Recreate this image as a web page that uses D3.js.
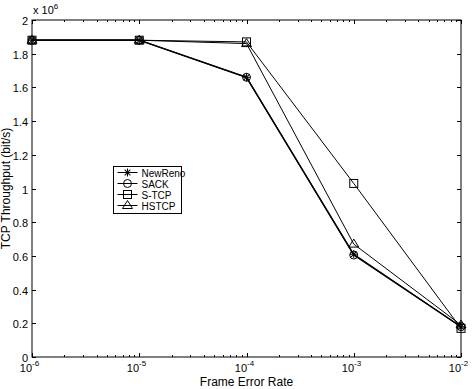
<!DOCTYPE html>
<meta charset="utf-8" />
<script src="https://d3js.org/d3.v7.min.js"></script>
<style>
  body { margin: 0; background: #fff; }
  svg text { font-family: "Liberation Sans", Arial, sans-serif; fill: #000; }
</style>
<body>
<div id="chart"></div>
<script>
  // frame error rates on the x axis
  var fer = [1e-6, 1e-5, 1e-4, 1e-3, 1e-2];
  // throughput in units of 1e6 bit/s
  var newReno = [1.88, 1.88, 1.66, 0.61, 0.18];
  var sack = [1.88, 1.88, 1.66, 0.605, 0.18];
  var stcp = [1.88, 1.88, 1.87, 1.03, 0.17];
  var hstcp = [1.88, 1.88, 1.86, 0.67, 0.19];
  var seriesNames = ["NewReno", "SACK", "S-TCP", "HSTCP"];
  var yTicks = [0, 0.2, 0.4, 0.6, 0.8, 1, 1.2, 1.4, 1.6, 1.8, 2];
  var xExp = [-6, -5, -4, -3, -2];

  var W = 474, H = 389;
  var margin = { top: 20, right: 13, bottom: 32, left: 32 };
  var width = W - margin.left - margin.right,
    height = H - margin.top - margin.bottom;

  var svg = d3.select("#chart").append("svg")
    .attr("width", W).attr("height", H);
  var g = svg.append("g")
    .attr("transform", "translate(" + margin.left + "," + margin.top + ")");

  var x = d3.scaleLog().domain([1e-6, 1e-2]).range([0, width]);
  var y = d3.scaleLinear().domain([0, 2]).range([height, 0]);

  // frame
  g.append("rect").attr("width", width).attr("height", height)
    .attr("fill", "none").attr("stroke", "#000").attr("stroke-width", 1);

  // y ticks (inward, both sides)
  yTicks.forEach(function(v) {
    var yy = Math.round(y(v)) + 0.5;
    g.append("line").attr("x1", 0).attr("x2", 4).attr("y1", yy).attr("y2", yy).attr("stroke", "#000");
    g.append("line").attr("x1", width - 4).attr("x2", width).attr("y1", yy).attr("y2", yy).attr("stroke", "#000");
    g.append("text").attr("x", -4).attr("y", yy + 4)
      .attr("text-anchor", "end").style("font-size", "11px").text(v);
  });

  // x ticks: major + minor
  var minor = [];
  for (var e = -6; e < -2; e++) {
    for (var k = 2; k <= 9; k++) minor.push(k * Math.pow(10, e));
  }
  minor.forEach(function(v) {
    var xx = Math.round(x(v)) + 0.5;
    g.append("line").attr("x1", xx).attr("x2", xx).attr("y1", height).attr("y2", height - 2).attr("stroke", "#000");
    g.append("line").attr("x1", xx).attr("x2", xx).attr("y1", 0).attr("y2", 2).attr("stroke", "#000");
  });
  xExp.forEach(function(p) {
    var xx = Math.round(x(Math.pow(10, p))) + 0.5;
    g.append("line").attr("x1", xx).attr("x2", xx).attr("y1", height).attr("y2", height - 4).attr("stroke", "#000");
    g.append("line").attr("x1", xx).attr("x2", xx).attr("y1", 0).attr("y2", 4).attr("stroke", "#000");
    var t = g.append("text").attr("x", xx - 3).attr("y", height + 15)
      .attr("text-anchor", "middle").style("font-size", "11px");
    t.append("tspan").text("10");
    t.append("tspan").attr("dy", -6).style("font-size", "8px").text(p);
  });

  // exponent label
  var ex = g.append("text").attr("x", 1).attr("y", -6).style("font-size", "11px");
  ex.append("tspan").text("x 10");
  ex.append("tspan").attr("dy", -5).style("font-size", "8px").text("6");

  // axis labels
  g.append("text").attr("x", width / 2).attr("y", height + 29)
    .attr("text-anchor", "middle").style("font-size", "12px").text("Frame Error Rate");
  g.append("text").attr("transform", "translate(" + (-22) + "," + (height / 2) + ") rotate(-90)")
    .attr("text-anchor", "middle").style("font-size", "12px").text("TCP Throughput (bit/s)");

  // markers
  function drawMarker(sel, type, cx, cy) {
    var s = 4;
    if (type === "NewReno") {
      var a = sel.append("g").attr("transform", "translate(" + cx + "," + cy + ")");
      [0, 45, 90, 135].forEach(function(ang) {
        a.append("line").attr("x1", -s).attr("x2", s).attr("y1", 0).attr("y2", 0)
          .attr("transform", "rotate(" + ang + ")").attr("stroke", "#000").attr("stroke-width", 1);
      });
    } else if (type === "SACK") {
      sel.append("circle").attr("cx", cx).attr("cy", cy).attr("r", s)
        .attr("fill", "none").attr("stroke", "#000");
    } else if (type === "S-TCP") {
      sel.append("rect").attr("x", cx - s).attr("y", cy - s).attr("width", 2 * s).attr("height", 2 * s)
        .attr("fill", "none").attr("stroke", "#000");
    } else {
      sel.append("path").attr("d", "M" + cx + "," + (cy - s - 1) + "L" + (cx + s + 1) + "," + (cy + s - 1) +
        "L" + (cx - s - 1) + "," + (cy + s - 1) + "Z")
        .attr("fill", "none").attr("stroke", "#000");
    }
  }

  var allSeries = [newReno, sack, stcp, hstcp];
  var line = d3.line()
    .x(function(d, i) { return x(fer[i]); })
    .y(function(d) { return y(d); });

  allSeries.forEach(function(vals, si) {
    g.append("path").datum(vals).attr("d", line)
      .attr("fill", "none").attr("stroke", "#000").attr("stroke-width", si < 2 ? 1.3 : 1);
  });
  allSeries.forEach(function(vals, si) {
    vals.forEach(function(v, i) {
      drawMarker(g, seriesNames[si], x(fer[i]), y(v));
    });
  });

  // legend
  var lg = svg.append("g").attr("transform", "translate(113.5,166.5)");
  lg.append("rect").attr("width", 68).attr("height", 47)
    .attr("fill", "#fff").attr("stroke", "#000");
  seriesNames.forEach(function(n, i) {
    var ly = 6 + i * 11;
    lg.append("line").attr("x1", 4).attr("x2", 24).attr("y1", ly).attr("y2", ly).attr("stroke", "#000");
    drawMarker(lg, n, 14, ly);
    lg.append("text").attr("x", 28).attr("y", ly + 4).style("font-size", "10px").text(n);
  });
</script>
</body>
